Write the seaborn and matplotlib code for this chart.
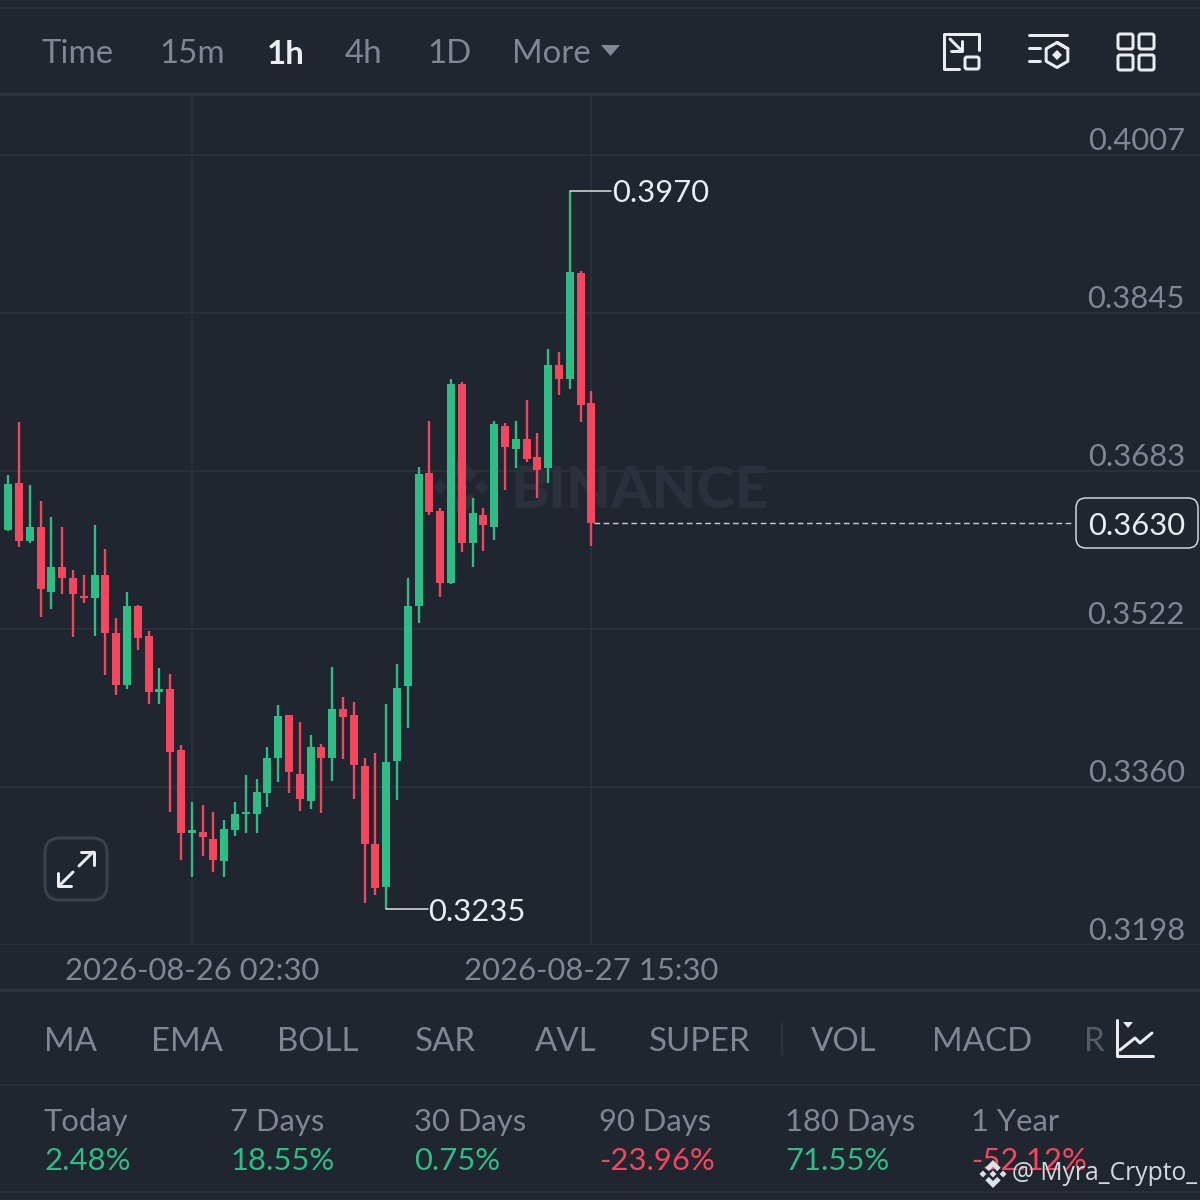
import matplotlib
matplotlib.use("Agg")
import matplotlib.pyplot as plt
from matplotlib.patches import FancyBboxPatch, Polygon, Rectangle
import numpy as np
import pandas as pd
import seaborn as sns

# ---- data -------------------------------------------------------------
candle_index = list(range(-18, 38))
opens = [.3688, .3623, .3671, .3612, .3626, .3560, .3585, .3574, .3555, .3553,
         .3577, .3517, .3464, .3545, .3514, .3457, .3460, .3398, .3313, .3314,
         .3307, .3284, .3316, .3332, .3332, .3354, .3390, .3434, .3373, .3345,
         .3401, .3389, .3440, .3434, .3381, .3301, .3257, .3386, .3463, .3545,
         .3681, .3642, .3569, .3772, .3610, .3638, .3626, .3729, .3706, .3716,
         .3698, .3686, .3792, .3778, .3886, .3753]
closes = [.3623, .3670, .3612, .3626, .3563, .3585, .3574, .3557, .3553, .3577,
          .3518, .3464, .3545, .3512, .3457, .3460, .3396, .3313, .3316, .3309,
          .3285, .3317, .3332, .3334, .3355, .3390, .3432, .3375, .3347, .3401,
          .3389, .3440, .3431, .3382, .3301, .3256, .3385, .3461, .3545, .3680,
          .3641, .3569, .3772, .3610, .3640, .3628, .3732, .3708, .3716, .3696,
          .3684, .3792, .3778, .3887, .3751, .3630]
highs = [.3688, .3679, .3734, .3669, .3653, .3636, .3626, .3582, .3577, .3628,
         .3604, .3533, .3559, .3546, .3520, .3482, .3476, .3403, .3344, .3341,
         .3334, .3326, .3344, .3372, .3368, .3401, .3444, .3434, .3426, .3413,
         .3404, .3483, .3452, .3447, .3389, .3395, .3445, .3486, .3574, .3687,
         .3735, .3645, .3778, .3775, .3656, .3645, .3735, .3733, .3735, .3756,
         .3722, .3808, .3805, .3970, .3888, .3765]
lows = [.3621, .3622, .3606, .3610, .3534, .3542, .3557, .3513, .3548, .3514,
        .3475, .3454, .3460, .3500, .3445, .3445, .3334, .3285, .3268, .3289,
        .3273, .3268, .3310, .3313, .3313, .3339, .3365, .3354, .3335, .3337,
        .3333, .3366, .3388, .3347, .3241, .3249, .3235, .3346, .3420, .3528,
        .3638, .3554, .3568, .3600, .3585, .3601, .3613, .3664, .3686, .3693,
        .3656, .3671, .3761, .3767, .3734, .3607]

price_ticks = [.4007, .3845, .3683, .3522, .3360, .3198]
time_ticks = [0, 37]
time_labels = ["2026-08-26 02:30", "2026-08-27 15:30"]
last_price = .3630
max_price, max_index = .3970, 35
min_price, min_index = .3235, 18

interval_labels = ["Time", "15m", "1h", "4h", "1D", "More"]
indicator_labels = ["MA", "EMA", "BOLL", "SAR", "AVL", "SUPER", "VOL", "MACD"]
period_labels = ["Today", "7 Days", "30 Days", "90 Days", "180 Days", "1 Year"]
period_values = ["2.48%", "18.55%", "0.75%", "-23.96%", "71.55%", "-52.12%"]

# ---- style ------------------------------------------------------------
BG = "#1F2630"
GRID = "#2C333E"
GREY = "#7E8793"
WHITE = "#EAECEF"
UP = "#2EBD85"
DOWN = "#F6465D"
MARK = "#2A313C"
FONT = "Lato"

sns.set_theme(style="dark", rc={"axes.facecolor": "none", "figure.facecolor": BG})
plt.rcParams["font.family"] = [FONT, "DejaVu Sans"]

fig = plt.figure(figsize=(12, 12), dpi=100, facecolor=BG)
PX = 0.72  # points per pixel
TEXT = 31


def full_axes(z):
    a = fig.add_axes([0, 0, 1, 1], zorder=z)
    a.set_xlim(0, 1200)
    a.set_ylim(1200, 0)
    a.axis("off")
    return a


back = full_axes(0)
ui = full_axes(3)


def logo(a, cx, cy, r, color, z=2):
    def poly(pts):
        a.add_patch(Polygon([(cx + x * r, cy + y * r) for x, y in pts], closed=True,
                            fc=color, ec="none", zorder=z))
    s = 0.25
    for dx in (-0.72, 0, 0.72):
        poly([(dx, -s), (dx + s, 0), (dx, s), (dx - s, 0)])
    chev = [(0, -1), (.55, -.45), (.3, -.2), (0, -.5), (-.3, -.2), (-.55, -.45)]
    poly(chev)
    poly([(x, -y) for x, y in chev])


# watermark behind the candles
logo(back, 461, 487, 29, MARK)
back.text(511, 492, "BINANCE", color=MARK, fontsize=38 * PX * 1.53, fontweight="black",
          ha="left", va="center", family=FONT)

# ---- chart ------------------------------------------------------------
X0 = 191.8
STEP = 10.8
px_price = 0.0809 / 790
ax = fig.add_axes([0, 255 / 1200, 1, (945 - 96) / 1200], zorder=1)
ax.set_facecolor("none")

df = pd.DataFrame({"idx": candle_index, "open": opens, "close": closes,
                   "high": highs, "low": lows})
df["dir"] = np.where(df["close"] >= df["open"], "up", "down")
palette = {"up": UP, "down": DOWN}

wicks = df.melt(id_vars=["idx", "dir"], value_vars=["high", "low"], value_name="price")
bodies = df.melt(id_vars=["idx", "dir"], value_vars=["open", "close"], value_name="price")

sns.lineplot(data=wicks, x="idx", y="price", hue="dir", units="idx", estimator=None,
             palette=palette, lw=2.3 * PX, solid_capstyle="butt", legend=False, ax=ax, zorder=3)
sns.lineplot(data=bodies, x="idx", y="price", hue="dir", units="idx", estimator=None,
             palette=palette, lw=8 * PX, solid_capstyle="butt", legend=False, ax=ax, zorder=4)

ax.set_xlabel("")
ax.set_ylabel("")
ax.set_xticks(time_ticks, time_labels)
ax.set_yticks(price_ticks, [""] * len(price_ticks))
ax.grid(True, color=GRID, lw=1.6 * PX)
ax.set_axisbelow(True)
ax.tick_params(axis="x", length=0, pad=12 * PX, labelsize=TEXT * PX, labelcolor=GREY)
ax.tick_params(axis="y", length=0)
for sp in ax.spines.values():
    sp.set_visible(False)
ax.set_ylim(.3198, .4007 + 59 * px_price)
ax.set_xlim(-X0 / STEP, (1200 - X0) / STEP)

for p in price_ticks:
    ax.annotate(f"{p:.4f}", xy=(1, p), xycoords=ax.get_yaxis_transform(),
                xytext=(-15 * PX, 14 * PX), textcoords="offset points",
                ha="right", va="center", fontsize=TEXT * PX, color=GREY)

# extremes and last price
ax.plot([max_index, max_index + 41 / STEP], [max_price, max_price], color="#D5D8DC", lw=1.6 * PX, zorder=5)
ax.annotate(f"{max_price:.4f}", xy=(max_index + 41 / STEP, max_price), xytext=(1 * PX, -2 * PX),
            textcoords="offset points", va="center", fontsize=TEXT * PX, color=WHITE)
ax.plot([min_index, min_index + 42 / STEP], [min_price, min_price], color="#D5D8DC", lw=1.6 * PX, zorder=5)
ax.annotate(f"{min_price:.4f}", xy=(min_index + 42 / STEP, min_price), xytext=(0, -3 * PX),
            textcoords="offset points", va="center", fontsize=TEXT * PX, color=WHITE)
ax.plot([37.2, (1075 - X0) / STEP], [last_price, last_price], color="#C9CDD2",
        lw=1.4 * PX, ls=(0, (4, 2.6)), zorder=5)

# ---- interface --------------------------------------------------------
for y, lw in [(8, 1.5), (94, 3), (990, 3), (1085, 1.5), (1192, 1.5)]:
    ui.plot([0, 1200], [y, y], color=GRID, lw=lw * PX, zorder=1)


def label(x, y, s, color=GREY, size=TEXT, **kw):
    kw.setdefault("ha", "left")
    kw.setdefault("va", "center")
    ui.text(x, y + 2, s, color=color, fontsize=size * PX, **kw)


for x, s in zip([42, 159, 267, 345, 427, 512], interval_labels):
    if s == "1h":
        label(x, 52, s, color=WHITE, fontweight="bold", size=33)
    else:
        label(x, 52, s, size=33)
ui.add_patch(Polygon([(601, 45), (620, 45), (610.5, 56)], fc=GREY, ec="none"))

ICON = dict(color=WHITE, lw=3 * PX, solid_capstyle="round", solid_joinstyle="round")
ui.plot([959, 944, 944, 979, 979], [69, 69, 34, 34, 50], **ICON)
ui.add_patch(FancyBboxPatch((965, 57), 14, 12, boxstyle="round,pad=0,rounding_size=2", fc="none", ec=WHITE, lw=3 * PX))
ui.plot([950, 962], [39, 51], **ICON)
ui.plot([951, 962, 962], [51, 51, 41], **ICON)

ui.plot([1029, 1067], [35, 35], **ICON)
ui.plot([1029, 1040], [48, 48], **ICON)
ui.plot([1029, 1040], [61, 61], **ICON)
ang = np.deg2rad(np.arange(-90, 331, 60))
ui.plot(1057 + 12.5 * np.cos(ang), 55 + 12.5 * np.sin(ang), **ICON)
ui.add_patch(Polygon([(1057, 50), (1062, 55), (1057, 60), (1052, 55)], fc=WHITE, ec="none"))

for x in (1118, 1139):
    for y in (34, 55):
        ui.add_patch(FancyBboxPatch((x, y), 15, 15, boxstyle="round,pad=0,rounding_size=2", fc="none", ec=WHITE, lw=3 * PX))

# expand button
ui.add_patch(FancyBboxPatch((45, 838), 62, 62, boxstyle="round,pad=0,rounding_size=15", fc=BG, ec="#3A414C", lw=3 * PX))
ui.plot([79, 93], [866, 852], **ICON)
ui.plot([81, 94, 94], [852, 852, 865], **ICON)
ui.plot([73, 59], [872, 886], **ICON)
ui.plot([58, 58, 71], [873, 886, 886], **ICON)

# price tag
ui.add_patch(FancyBboxPatch((1076, 498), 122, 50, boxstyle="round,pad=0,rounding_size=10", fc=BG, ec="#D5D8DC", lw=1.5 * PX))
label(1088, 524, f"{last_price:.4f}", color=WHITE)

# indicator row
for x, s in zip([44, 151, 277, 415, 535, 649, 811, 932], indicator_labels):
    label(x, 1040, s, size=33)
ui.plot([782, 782], [1023, 1055], color=GRID, lw=2 * PX)
label(1084, 1040, "RSI", color="#545C68", size=33)
ui.add_patch(Rectangle((1104, 1015), 96, 50, fc=BG, ec="none", zorder=3.5))
ICON2 = dict(ICON, zorder=4)
ui.plot([1117, 1117, 1153], [1020, 1056, 1056], **ICON2)
ui.plot([1120, 1135, 1140, 1152], [1050, 1038, 1043, 1033], **ICON2)
ui.add_patch(Polygon([(1123, 1022), (1133, 1022), (1128, 1028)], fc=WHITE, ec="none", zorder=4))

# period row
for x, name, val in zip([44, 230, 414, 599, 785, 971], period_labels, period_values):
    label(x, 1120, name)
    label(x, 1159, val, color=DOWN if val.startswith("-") else UP)

# attribution
logo(ui, 993, 1174, 14, "#DDE0E4", z=5)
ui.text(1012, 1173, "@ Myra_Crypto_", color="#D5D9DE", fontsize=24.6 * PX, family="Open Sans",
        ha="left", va="center", zorder=5)

fig.savefig("out.png", dpi=100, facecolor=BG)
